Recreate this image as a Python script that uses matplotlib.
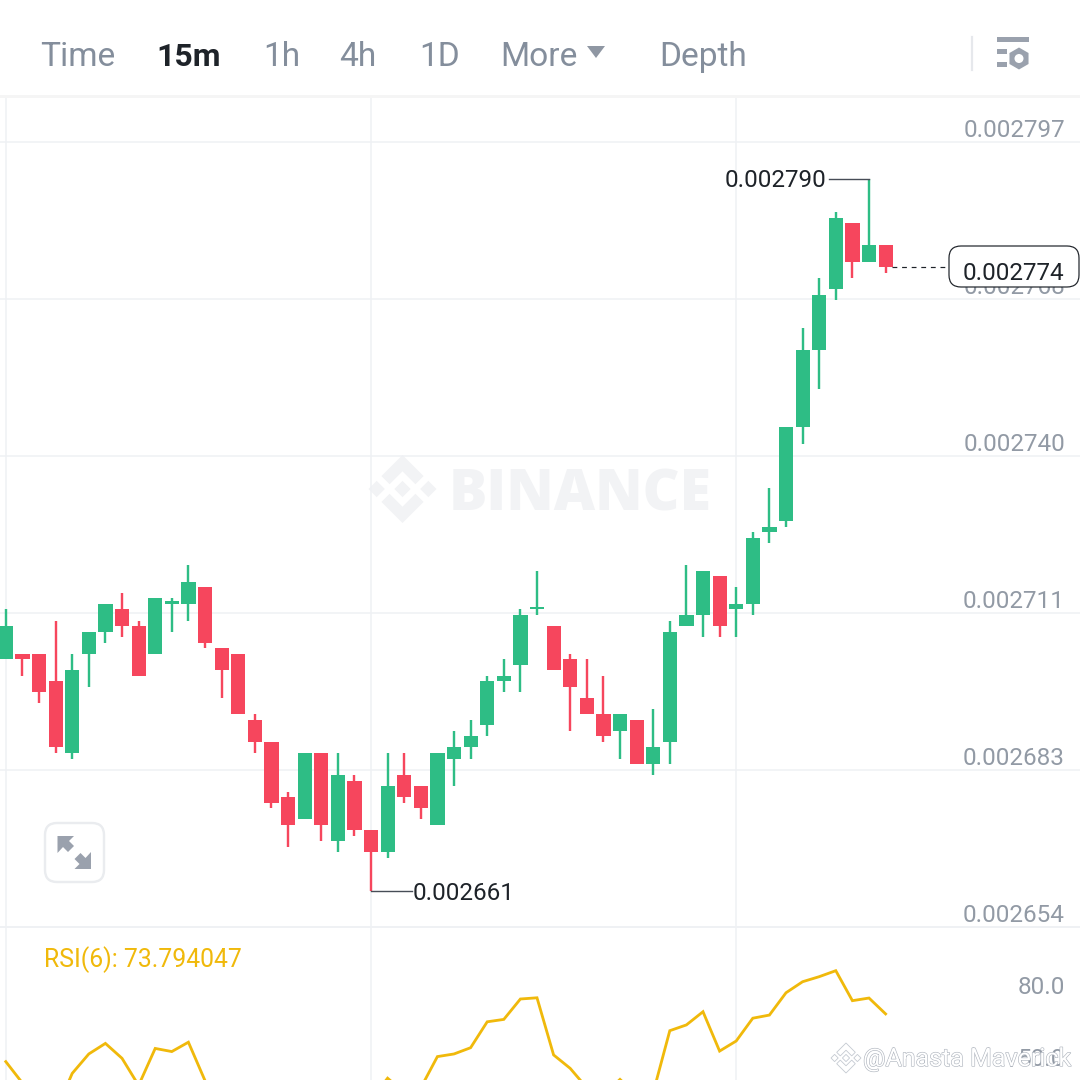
# -*- coding: utf-8 -*-
"""Binance style 15m candlestick chart with RSI(6) panel."""

import matplotlib
matplotlib.use("Agg")
import matplotlib.patheffects as pe
import matplotlib.pyplot as plt
from matplotlib.patches import FancyBboxPatch, Polygon, Circle, Rectangle, RegularPolygon


# prices in units of 0.000001
opens = [2703, 2704, 2704, 2699, 2686, 2704, 2708, 2712, 2709, 2704, 2713, 2713, 2716, 2705,
         2704, 2692, 2688, 2678, 2674, 2686, 2670, 2681, 2672, 2668, 2682, 2680, 2673, 2685,
         2687, 2691, 2699, 2702, 2712, 2709, 2703, 2696, 2693, 2690, 2692, 2684, 2688, 2709,
         2711, 2718, 2712, 2713, 2726, 2728, 2745, 2759, 2770, 2782, 2775, 2778]
highs = [2712, 2704, 2704, 2710, 2704, 2708, 2713, 2715, 2710, 2714, 2714, 2720, 2716, 2705,
         2704, 2693, 2688, 2679, 2686, 2686, 2686, 2682, 2672, 2686, 2686, 2680, 2686, 2690,
         2692, 2700, 2703, 2712, 2719, 2709, 2704, 2703, 2700, 2693, 2692, 2694, 2710, 2720,
         2719, 2718, 2716, 2726, 2734, 2745, 2763, 2772, 2784, 2782, 2790, 2778]
lows = [2703, 2700, 2695, 2686, 2685, 2698, 2706, 2707, 2700, 2704, 2708, 2710, 2705, 2696,
        2693, 2686, 2676, 2669, 2674, 2670, 2668, 2671, 2661, 2667, 2677, 2674, 2673, 2680,
        2685, 2689, 2697, 2697, 2711, 2701, 2690, 2693, 2688, 2685, 2684, 2682, 2684, 2709,
        2707, 2707, 2707, 2711, 2724, 2727, 2742, 2752, 2768, 2772, 2775, 2773]
closes = [2709, 2703, 2697, 2687, 2701, 2708, 2713, 2709, 2700, 2714, 2713, 2717, 2706, 2701,
          2693, 2688, 2677, 2673, 2686, 2673, 2682, 2672, 2668, 2680, 2678, 2676, 2686, 2687,
          2689, 2699, 2700, 2711, 2712, 2701, 2698, 2693, 2689, 2693, 2684, 2687, 2708, 2711,
          2719, 2709, 2713, 2725, 2727, 2745, 2759, 2769, 2783, 2775, 2778, 2774]
rsi6 = [53.9, 45.0, 38.0, 33.0, 49.0, 57.1, 61.5, 55.3, 44.0, 59.4, 58.1, 62.0, 46.0, 38.0,
        36.0, 30.0, 25.0, 27.0, 33.0, 30.0, 36.0, 34.0, 38.0, 47.0, 41.0, 43.0, 56.0, 57.1,
        59.7, 70.5, 71.5, 80.0, 80.5, 56.7, 51.1, 43.0, 40.0, 46.5, 40.0, 41.0, 66.8, 69.2,
        74.7, 58.3, 62.5, 72.0, 73.3, 82.6, 87.2, 89.3, 91.8, 79.3, 80.4, 73.79]

price_ticks = [2654.48, 2682.92, 2711.36, 2739.8, 2768.24, 2796.68]
price_labels = ["0.002654", "0.002683", "0.002711", "0.002740", "0.002768", "0.002797"]
rsi_ticks = [80.0, 50.0]
rsi_labels = ["80.0", "50.0"]
time_grid = [0, 22, 44]
tabs = ["Time", "15m", "1h", "4h", "1D", "More", "Depth"]

GREEN = "#2EBD85"
RED = "#F6465D"
YELLOW = "#F0B90B"
GRID = "#EFF1F4"
AXIS_GREY = "#929AA5"
TAB_GREY = "#848E9C"
DARK = "#1E2329"
FONT = "Roboto"
PX = 0.72  # one pixel in points at dpi=100
LABEL_PX = 24.2


def axes_from_px(fig, top, bottom):
    return fig.add_axes([0, 1 - bottom / 1080, 1, (bottom - top) / 1080])


def binance_logo(ax, cx, cy, r, **kw):
    """Five piece logo, r is half of the total height in pixels."""
    pieces = [
        [(0, -1), (.62, -.38), (.38, -.14), (0, -.52), (-.38, -.14), (-.62, -.38)],
        [(0, 1), (.62, .38), (.38, .14), (0, .52), (-.38, .14), (-.62, .38)],
        [(0, -.24), (.24, 0), (0, .24), (-.24, 0)],
        [(-.76, -.24), (-.52, 0), (-.76, .24), (-1, 0)],
        [(.76, -.24), (1, 0), (.76, .24), (.52, 0)],
    ]
    for piece in pieces:
        ax.add_patch(Polygon([(cx + r * a, cy + r * b) for a, b in piece], closed=True, **kw))


def draw_candles(ax):
    for i, (o, h, l, c) in enumerate(zip(opens, highs, lows, closes)):
        color = GREEN if c >= o else RED
        ax.plot([i, i], [l, h], color=color, lw=2.4 * PX, solid_capstyle="butt", zorder=3)
        height = max(abs(c - o), 0.5)
        ax.bar(i, height, bottom=min(o, c), width=14.2 / 16.6, color=color,
               linewidth=0, zorder=4)


def main():
    plt.rcParams["font.family"] = [FONT, "DejaVu Sans"]
    fig = plt.figure(figsize=(10.8, 10.8), dpi=100, facecolor="white")

    # watermark sits under everything
    under = fig.add_axes([0, 0, 1, 1], zorder=0)
    under.set_xlim(0, 1080)
    under.set_ylim(1080, 0)
    under.axis("off")
    binance_logo(under, 402.5, 489, 34, facecolor="#F2F3F5", edgecolor="none")
    under.text(449, 489, "BINANCE", family="Open Sans", fontsize=57 * PX, fontweight="extra bold",
               color="#F2F3F5", ha="left", va="center_baseline")

    # candle panel
    ax = axes_from_px(fig, 97, 927)
    ax.set_zorder(1)
    ax.patch.set_alpha(0)
    ax.set_xlim(-5.8 / 16.6, (1080 - 5.8) / 16.6)
    ax.set_ylim(price_ticks[0], price_ticks[0] + 830 / 5.52)
    ax.set_xticks(time_grid)
    ax.set_yticks(price_ticks)
    ax.grid(True, color=GRID, lw=1.5 * PX, zorder=0)
    ax.tick_params(length=0, labelbottom=False, labelleft=False)
    for spine in ax.spines.values():
        spine.set_visible(False)
    draw_candles(ax)

    ytrans = ax.get_yaxis_transform()
    for tick, label in zip(price_ticks, price_labels):
        ax.annotate(label, xy=(1, tick), xycoords=ytrans, xytext=(-15 * PX, 12 * PX),
                    textcoords="offset points", ha="right", va="center",
                    fontsize=LABEL_PX * PX, color=AXIS_GREY, zorder=5)

    # high and low markers
    hi = max(highs)
    lo = min(lows)
    hi_i = highs.index(hi)
    lo_i = lows.index(lo)
    ax.plot([hi_i, hi_i - 40 / 16.6], [hi, hi], color="#474D57", lw=1.4 * PX, zorder=5)
    ax.plot([lo_i, lo_i + 41 / 16.6], [lo, lo], color="#474D57", lw=1.4 * PX, zorder=5)
    ax.annotate(f"{hi / 1e6:.6f}", xy=(hi_i - 40 / 16.6, hi), xytext=(-3 * PX, -2 * PX),
                textcoords="offset points", ha="right", va="center",
                fontsize=LABEL_PX * PX, color=DARK, zorder=6)
    ax.annotate(f"{lo / 1e6:.6f}", xy=(lo_i + 41 / 16.6, lo), xytext=(1 * PX, -2 * PX),
                textcoords="offset points", ha="left", va="center",
                fontsize=LABEL_PX * PX, color=DARK, zorder=6)

    # last price line
    last = closes[-1]
    ax.plot([len(closes) - 1 + 6 / 16.6, (950 - 5.8) / 16.6], [last, last], color=DARK,
            lw=1.2 * PX, dashes=(4, 4), zorder=5)

    # RSI panel
    ax_rsi = axes_from_px(fig, 927, 1080)
    ax_rsi.set_zorder(1)
    ax_rsi.patch.set_alpha(0)
    ax_rsi.set_xlim(ax.get_xlim())
    ax_rsi.set_ylim(46.25, 110)
    ax_rsi.set_xticks(time_grid)
    ax_rsi.set_yticks([])
    ax_rsi.grid(True, axis="x", color=GRID, lw=1.5 * PX, zorder=0)
    ax_rsi.tick_params(length=0, labelbottom=False, labelleft=False)
    for spine in ax_rsi.spines.values():
        spine.set_visible(False)
    ax_rsi.plot(range(len(rsi6)), rsi6, color=YELLOW, lw=2.8 * PX, solid_joinstyle="miter", zorder=3)
    for tick, label in zip(rsi_ticks, rsi_labels):
        ax_rsi.annotate(label, xy=(1, tick), xycoords=ax_rsi.get_yaxis_transform(),
                        xytext=(-15 * PX, 11 * PX), textcoords="offset points",
                        ha="right", va="center", fontsize=LABEL_PX * PX, color=AXIS_GREY,
                        annotation_clip=False)

    # chrome, in pixel coordinates
    top = fig.add_axes([0, 0, 1, 1], zorder=2)
    top.set_xlim(0, 1080)
    top.set_ylim(1080, 0)
    top.axis("off")

    top.plot([0, 1080], [96, 96], color="#F5F5F5", lw=3 * PX)
    top.plot([0, 1080], [927, 927], color=GRID, lw=2 * PX)

    tab_x = [40, 156, 263, 339, 419, 500, 659]
    for x, name in zip(tab_x, tabs):
        active = name == "15m"
        top.text(x, 66, name, fontsize=(32 if active else 33.5) * PX, ha="left", va="baseline",
                 color=DARK if active else TAB_GREY, fontweight="bold" if active else "normal")
    top.add_patch(Polygon([(587, 46), (605, 46), (596, 58)], closed=True, facecolor="#8F97A3",
                          edgecolor="none"))
    top.plot([972, 972], [37, 70], color="#E6E8EC", lw=2.2 * PX)

    # settings icon
    icon = "#9AA1AD"
    top.add_patch(Rectangle((997, 37), 32, 5, facecolor=icon, edgecolor="none"))
    top.add_patch(Rectangle((997, 49), 9.5, 4.5, facecolor=icon, edgecolor="none"))
    top.add_patch(Rectangle((997, 62), 9.5, 5, facecolor=icon, edgecolor="none"))
    top.add_patch(RegularPolygon((1019, 58.5), 6, radius=11, facecolor=icon, edgecolor="none"))
    top.add_patch(Circle((1019, 58.5), 4.5, facecolor="white", edgecolor="none"))

    # expand button
    top.add_patch(FancyBboxPatch((54, 832), 41, 41, boxstyle="round,pad=9,rounding_size=12",
                                 facecolor="white", edgecolor="#EAECEF", lw=2.4 * PX))
    top.add_patch(Polygon([(57.5, 836), (74, 836), (69, 841), (74, 846), (68, 852), (63, 847),
                           (57.5, 853)], closed=True, facecolor=icon, edgecolor="none"))
    top.add_patch(Polygon([(91, 869), (74.5, 869), (79.5, 864), (74.5, 859), (80.5, 853),
                           (85.5, 858), (91, 852)], closed=True, facecolor=icon, edgecolor="none"))

    # last price tag covers the 0.002768 label
    top.add_patch(FancyBboxPatch((959, 256), 110, 21, boxstyle="round,pad=10,rounding_size=12",
                                 facecolor="white", edgecolor=DARK, lw=1.2 * PX))
    top.text(1064, 273, f"{last / 1e6:.6f}", fontsize=LABEL_PX * PX, color=DARK, ha="right", va="center")

    top.text(44, 960, f"RSI(6): {73.794047:.6f}", fontsize=24.7 * PX, color=YELLOW,
             ha="left", va="center")

    # repost watermark
    binance_logo(top, 846, 1058, 15, facecolor="white", edgecolor="#C4C9D1", lw=0.6)
    top.text(863, 1059, "@Anasta Maverick", fontsize=25 * PX, color="white", ha="left", va="center",
             path_effects=[pe.withStroke(linewidth=0.9, foreground="#B0B6BF")])

    fig.savefig("out.png", dpi=100, facecolor="white")


if __name__ == "__main__":
    main()
